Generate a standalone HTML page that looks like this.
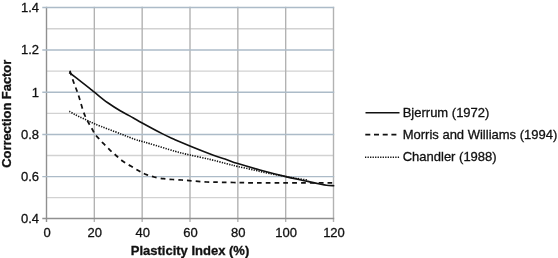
<!DOCTYPE html>
<html><head><meta charset="utf-8"><title>Correction Factor vs Plasticity Index</title>
<style>html,body{margin:0;padding:0;background:#fff}svg{display:block}text{font-family:"Liberation Sans",sans-serif;fill:#111;stroke:#111;stroke-width:0.3px}</style></head><body>
<svg width="558" height="258" viewBox="0 0 558 258">
<rect width="558" height="258" fill="#fff"/>
<line x1="46.5" x2="333.5" y1="197.60" y2="197.60" stroke="#d2d2d2" stroke-width="1.4"/>
<line x1="46.5" x2="333.5" y1="155.50" y2="155.50" stroke="#d2d2d2" stroke-width="1.4"/>
<line x1="46.5" x2="333.5" y1="113.40" y2="113.40" stroke="#d2d2d2" stroke-width="1.4"/>
<line x1="46.5" x2="333.5" y1="71.10" y2="71.10" stroke="#d2d2d2" stroke-width="1.4"/>
<line x1="46.5" x2="333.5" y1="28.80" y2="28.80" stroke="#d2d2d2" stroke-width="1.4"/>
<line x1="46.50" x2="46.50" y1="6.8" y2="222" stroke="#909090" stroke-width="1.4"/>
<line x1="94.33" x2="94.33" y1="6.8" y2="222" stroke="#b2b2b2" stroke-width="1.4"/>
<line x1="142.17" x2="142.17" y1="6.8" y2="222" stroke="#b2b2b2" stroke-width="1.4"/>
<line x1="190.00" x2="190.00" y1="6.8" y2="222" stroke="#b2b2b2" stroke-width="1.4"/>
<line x1="237.83" x2="237.83" y1="6.8" y2="222" stroke="#b2b2b2" stroke-width="1.4"/>
<line x1="285.67" x2="285.67" y1="6.8" y2="222" stroke="#b2b2b2" stroke-width="1.4"/>
<line x1="333.50" x2="333.50" y1="6.8" y2="222" stroke="#b2b2b2" stroke-width="1.4"/>
<line x1="42.3" x2="334.2" y1="218.50" y2="218.50" stroke="#909090" stroke-width="1.4"/>
<line x1="42.3" x2="334.2" y1="176.60" y2="176.60" stroke="#acbbc8" stroke-width="1.4"/>
<line x1="42.3" x2="334.2" y1="134.50" y2="134.50" stroke="#acbbc8" stroke-width="1.4"/>
<line x1="42.3" x2="334.2" y1="92.20" y2="92.20" stroke="#acbbc8" stroke-width="1.4"/>
<line x1="42.3" x2="334.2" y1="50.00" y2="50.00" stroke="#acbbc8" stroke-width="1.4"/>
<line x1="42.3" x2="334.2" y1="7.50" y2="7.50" stroke="#acbbc8" stroke-width="1.4"/>
<path d="M69.3 111.3 C70.2 111.8 72.7 113.4 75.0 114.6 C77.3 115.8 80.0 117.0 83.3 118.5 C86.6 120.0 88.5 121.3 94.8 123.9 C101.1 126.5 114.5 131.5 121.2 134.1 C127.9 136.7 131.5 138.2 135.0 139.4 C138.5 140.6 139.8 140.8 142.3 141.5 C144.8 142.2 144.6 142.1 150.0 143.7 C155.4 145.3 168.3 149.4 175.0 151.3 C181.7 153.2 184.1 153.7 189.9 155.0 C195.7 156.3 203.9 158.0 209.9 159.4 C215.9 160.8 221.5 162.4 226.2 163.6 C230.8 164.8 233.2 165.4 237.8 166.5 C242.4 167.6 248.8 168.8 254.0 170.0 C259.2 171.2 263.9 172.4 269.2 173.5 C274.5 174.6 281.7 175.7 286.0 176.5 C290.3 177.3 291.4 177.6 295.1 178.2 C298.8 178.8 305.9 179.9 308.0 180.2" fill="none" stroke="#111" stroke-width="1.6" stroke-dasharray="1.3 1.22"/>
<path d="M69.9 70.8 C70.5 72.5 72.2 78.1 73.3 81.3 C74.4 84.5 75.5 87.1 76.5 89.8 C77.5 92.5 78.3 94.7 79.2 97.6 C80.1 100.5 81.1 104.2 82.1 107.4 C83.1 110.6 84.1 113.8 85.3 116.5 C86.5 119.2 87.8 121.5 89.0 123.7 C90.2 125.9 91.4 127.8 92.4 129.5 C93.4 131.2 93.8 132.6 94.8 134.0 C95.8 135.4 96.9 136.6 98.4 138.2 C99.9 139.8 101.8 141.8 103.6 143.7 C105.4 145.6 107.5 147.6 109.5 149.6 C111.5 151.6 113.7 153.4 115.9 155.4 C118.1 157.4 120.4 159.5 122.9 161.3 C125.4 163.1 128.3 164.6 130.8 166.1 C133.3 167.6 135.9 169.1 137.8 170.2 C139.7 171.3 140.9 172.0 142.4 172.8 C143.9 173.6 145.2 174.2 147.1 174.9 C149.0 175.6 151.4 176.4 154.1 177.0 C156.8 177.6 160.3 178.3 163.4 178.7 C166.5 179.1 169.6 179.3 172.7 179.5 C175.8 179.7 179.2 179.8 182.0 180.0 C184.8 180.2 186.6 180.4 189.3 180.6 C192.0 180.8 195.1 181.2 198.0 181.4 C200.9 181.6 203.7 181.9 206.7 182.0 C209.7 182.1 211.5 182.1 216.0 182.2 C220.5 182.3 226.2 182.4 233.5 182.5 C240.8 182.6 243.5 182.8 260.0 182.8 C276.5 182.9 320.4 182.8 332.5 182.8" fill="none" stroke="#111" stroke-width="1.75" stroke-dasharray="4.7 4.08"/>
<path d="M69.2 72.5 C71.3 74.1 78.5 79.6 82.0 82.3 C85.5 85.0 87.9 86.9 90.0 88.6 C92.1 90.3 91.8 90.1 94.7 92.4 C97.6 94.7 103.1 99.5 107.4 102.5 C111.7 105.5 115.9 108.2 120.2 110.7 C124.5 113.2 129.3 115.7 133.0 117.7 C136.7 119.8 137.3 120.3 142.2 123.0 C147.1 125.7 157.1 131.1 162.6 133.9 C168.1 136.7 170.4 137.6 175.0 139.7 C179.6 141.7 183.5 143.4 189.9 146.1 C196.3 148.7 207.6 153.2 213.4 155.3 C219.2 157.5 220.9 157.6 225.0 159.0 C229.1 160.4 232.0 161.8 237.8 163.6 C243.6 165.4 251.9 167.8 259.9 170.0 C267.9 172.2 277.8 174.7 285.8 176.6 C293.8 178.5 302.5 180.2 307.9 181.4 C313.3 182.6 315.3 183.1 318.4 183.7 C321.5 184.3 323.9 184.9 326.5 185.2 C329.1 185.5 333.0 185.6 334.3 185.7" fill="none" stroke="#111" stroke-width="1.6"/>
<text x="39" y="223.2" font-size="13" text-anchor="end">0.4</text>
<text x="39" y="181" font-size="13" text-anchor="end">0.6</text>
<text x="39" y="138.8" font-size="13" text-anchor="end">0.8</text>
<text x="39" y="96.6" font-size="13" text-anchor="end">1</text>
<text x="39" y="54.4" font-size="13" text-anchor="end">1.2</text>
<text x="39" y="12.2" font-size="13" text-anchor="end">1.4</text>
<text x="47" y="236.8" font-size="13" text-anchor="middle">0</text>
<text x="94.8333" y="236.8" font-size="13" text-anchor="middle">20</text>
<text x="142.667" y="236.8" font-size="13" text-anchor="middle">40</text>
<text x="190.5" y="236.8" font-size="13" text-anchor="middle">60</text>
<text x="238.333" y="236.8" font-size="13" text-anchor="middle">80</text>
<text x="286.167" y="236.8" font-size="13" text-anchor="middle">100</text>
<text x="334" y="236.8" font-size="13" text-anchor="middle">120</text>
<text x="190" y="254.5" font-size="13" font-weight="bold" text-anchor="middle">Plasticity Index (%)</text>
<text transform="translate(11.2,113.8) rotate(-90)" font-size="13" font-weight="bold" text-anchor="middle" letter-spacing="-0.06">Correction Factor</text>
<line x1="365.5" x2="399.5" y1="112.7" y2="112.7" stroke="#111" stroke-width="1.6"/>
<line x1="365.3" x2="399.5" y1="134.7" y2="134.7" stroke="#111" stroke-width="1.7" stroke-dasharray="5 3.7"/>
<line x1="365" x2="399.6" y1="157.2" y2="157.2" stroke="#111" stroke-width="1.5" stroke-dasharray="1.3 1.22"/>
<text x="402.7" y="116.8" font-size="13">Bjerrum (1972)</text>
<text x="402.7" y="138.8" font-size="13">Morris and Williams (1994)</text>
<text x="402.7" y="160.8" font-size="13">Chandler (1988)</text>
</svg></body></html>
